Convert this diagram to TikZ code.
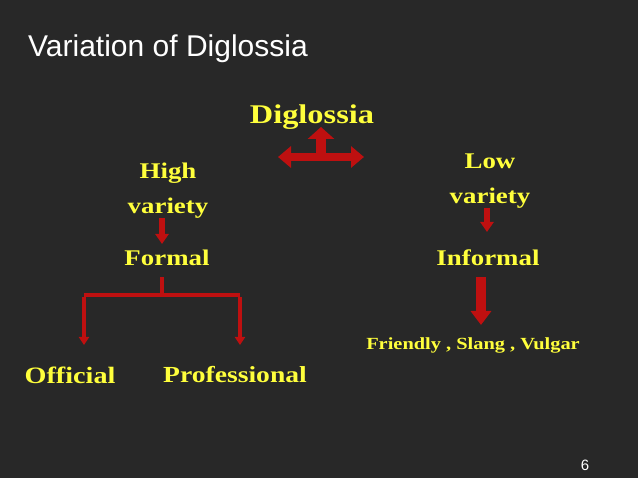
\documentclass[tikz,border=0pt]{standalone}
\usepackage{fontspec}
\setmainfont{Liberation Serif}
\newfontfamily\gfont[FakeStretch=1.2]{Liberation Serif}
\newfontfamily\tfont{Liberation Sans}
\usetikzlibrary{arrows.meta}
\definecolor{bgcol}{RGB}{40,40,40}
\definecolor{ylw}{RGB}{255,255,60}
\definecolor{redar}{RGB}{190,16,16}
\begin{document}
\begin{tikzpicture}[x=1pt,y=-1pt,
  lbl/.style={text=ylw,font=\gfont\bfseries\fontsize{22.4}{30}\selectfont,inner sep=0pt,align=center},
  ttl/.style={text=white,font=\tfont\fontsize{30}{34}\selectfont,inner sep=0pt,anchor=base west},
  blk/.style={draw=redar,line width=#1},
  tip/.style={-{Triangle[width=#1,length=0.8*#1]}}]
\fill[bgcol] (0,0) rectangle (638,478);
\useasboundingbox (0,0) rectangle (638,478);
\node[ttl] (title) at (28,57) {Variation of Diglossia};
\node[lbl,font=\gfont\bfseries\fontsize{27}{30}\selectfont] (dig) at (312,117) {Diglossia};
\node[lbl] (high) at (168,191) {High\\[5pt]variety};
\node[lbl] (formal) at (167,258) {Formal};
\node[lbl] (low) at (490,181) {Low\\[5pt]variety};
\node[lbl] (informal) at (488,258) {Informal};
\node[lbl,font=\gfont\bfseries\fontsize{23.5}{30}\selectfont] (official) at (70,375) {Official};
\node[lbl,font=\gfont\bfseries\fontsize{23}{30}\selectfont] (prof) at (235,375) {Professional};
\node[lbl,font=\gfont\bfseries\fontsize{17}{20}\selectfont] (friend) at (473,345) {Friendly , Slang , Vulgar};
\node[text=white,font=\tfont\fontsize{15}{18}\selectfont,inner sep=0pt] (page) at (585,465) {6};
% T arrow under Diglossia
\coordinate (tj) at (321,157);
\coordinate (tu) at (321,127);
\coordinate (tl) at (278,157);
\coordinate (tr) at (364,157);
\draw[blk=10pt,-{Triangle[width=26pt,length=12pt]}] (tj) -- (tu);
\draw[blk=8pt,{Triangle[width=21pt,length=13pt]}-{Triangle[width=21pt,length=13pt]}] (tl) -- (tr);
% high -> formal
\coordinate (h1) at (162,218);
\coordinate (h2) at (162,244);
\draw[blk=6pt,-{Triangle[width=13pt,length=10pt]}] (h1) -- (h2);
% low -> informal
\coordinate (l1) at (487,208);
\coordinate (l2) at (487,232);
\draw[blk=6pt,-{Triangle[width=13pt,length=10pt]}] (l1) -- (l2);
% informal -> friendly
\coordinate (i1) at (481,277);
\coordinate (i2) at (481,325);
\draw[blk=10pt,-{Triangle[width=20pt,length=14pt]}] (i1) -- (i2);
% formal tree
\coordinate (f1) at (162,277);
\coordinate (f2) at (162,295);
\coordinate (bl) at (84,295);
\coordinate (br) at (240,295);
\coordinate (ol) at (84,345);
\coordinate (or) at (240,345);
\draw[blk=4.5pt] (f1) -- (f2);
\draw[blk=4.5pt] (bl) -- (br);
\draw[blk=4.5pt,tip=10pt] ([yshift=-2pt]bl) -- (ol);
\draw[blk=4.5pt,tip=10pt] ([yshift=-2pt]br) -- (or);
\end{tikzpicture}
\end{document}
